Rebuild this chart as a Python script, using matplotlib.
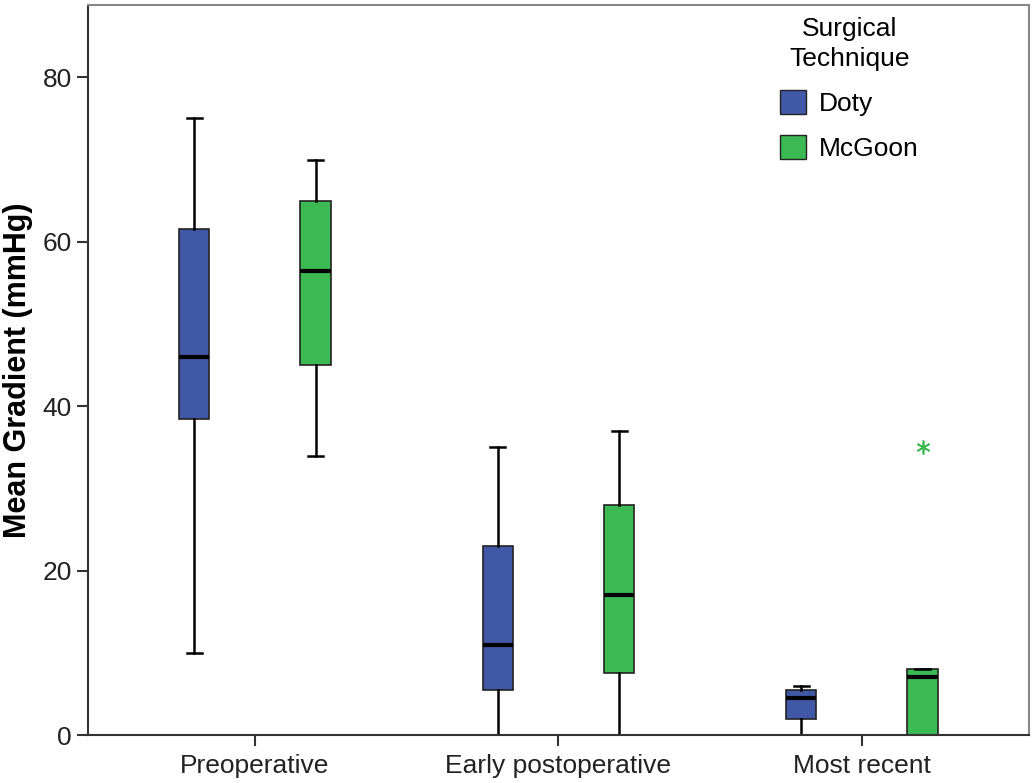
import numpy as np
import matplotlib.pyplot as plt
from matplotlib.patches import Patch

plt.rcParams['font.family'] = ['Liberation Sans', 'DejaVu Sans']

# Datos (mmHg)
categorias = ['Preoperative', 'Early postoperative', 'Most recent']
tecnicas = ['Doty', 'McGoon']

doty_min = [10, 0, 0]
doty_q1 = [38.5, 5.5, 2]
doty_med = [46, 11, 4.5]
doty_q3 = [61.5, 23, 5.5]
doty_max = [75, 35, 6]

mcgoon_min = [34, 0, 0]
mcgoon_q1 = [45, 7.5, 0]
mcgoon_med = [56.5, 17, 7]
mcgoon_q3 = [65, 28, 8]
mcgoon_max = [70, 37, 8]

# valores extremos (categoria, valor)
mcgoon_extremos = [(2, 35)]

color_doty = '#4058A6'
color_mcgoon = '#3BB953'

fig = plt.figure(figsize=(10.33, 7.83), dpi=100)
ax = fig.add_axes([0.0852, 0.0613, 0.9108, 0.9323])

x = np.arange(len(categorias))
desplaz = 0.2
ancho = 0.1


def armar_stats(mins, q1s, meds, q3s, maxs):
    stats = []
    for i in range(len(mins)):
        stats.append(dict(whislo=mins[i], q1=q1s[i], med=meds[i],
                          q3=q3s[i], whishi=maxs[i], fliers=[]))
    return stats


series = [
    (armar_stats(doty_min, doty_q1, doty_med, doty_q3, doty_max), -desplaz, color_doty),
    (armar_stats(mcgoon_min, mcgoon_q1, mcgoon_med, mcgoon_q3, mcgoon_max), desplaz, color_mcgoon),
]

for stats, dx, col in series:
    ax.bxp(stats, positions=x + dx, widths=ancho, capwidths=ancho * 0.5,
           patch_artist=True, showfliers=False, manage_ticks=False,
           boxprops=dict(facecolor=col, edgecolor='#222222', linewidth=1.2),
           medianprops=dict(color='black', linewidth=3),
           whiskerprops=dict(color='black', linewidth=1.8),
           capprops=dict(color='black', linewidth=1.8))

for cat, val in mcgoon_extremos:
    ax.plot(cat + desplaz, val, marker=(6, 2, 0), color=color_mcgoon,
            markersize=10, markeredgewidth=1.2, linestyle='none')

ax.set_xlim(-0.55, 2.55)
ax.set_ylim(0, 88.8)
ax.set_yticks([0, 20, 40, 60, 80])
ax.set_xticks(x)
ax.set_xticklabels(categorias)
ax.tick_params(axis='both', labelsize=19, length=8, width=1.5, color='#333333',
               labelcolor='#222222')
ax.tick_params(axis='x', pad=6)
ax.set_ylabel('Mean Gradient (mmHg)', fontsize=22, fontweight='bold')
ax.yaxis.set_label_coords(-0.058, 0.5)

for s in ax.spines.values():
    s.set_linewidth(1.5)
    s.set_color('#333333')
ax.spines['top'].set_color('#888888')
ax.spines['right'].set_color('#888888')

manejadores = [Patch(facecolor=color_doty, edgecolor='#222222', label=tecnicas[0]),
               Patch(facecolor=color_mcgoon, edgecolor='#222222', label=tecnicas[1])]
leg = ax.legend(handles=manejadores, title='Surgical\nTechnique', loc='upper left',
                bbox_to_anchor=(0.71, 1.016), frameon=False, fontsize=19,
                title_fontsize=19, handlelength=1.0, handleheight=1.0,
                handletextpad=0.5, labelspacing=0.72)
leg.get_title().set_multialignment('center')
leg.get_title().set_linespacing(1.3)
leg._legend_box.align = 'center'
leg._legend_box.sep = 14

plt.savefig('out.png', dpi=100)
